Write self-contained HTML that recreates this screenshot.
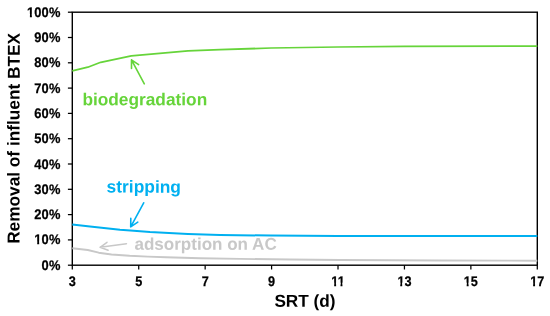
<!DOCTYPE html>
<html><head><meta charset="utf-8">
<style>
html,body{margin:0;padding:0;background:#fff;}
body{width:550px;height:316px;overflow:hidden;}
svg{display:block;text-rendering:geometricPrecision;font-family:"Liberation Sans",Arial,sans-serif;font-weight:bold;}
</style></head><body>
<svg width="550" height="316" viewBox="0 0 550 316">
<rect width="550" height="316" fill="#fff"/>
<rect x="72.3" y="12.2" width="465.0" height="253.0" fill="none" stroke="#000" stroke-width="1.4"/>
<g stroke="#000" stroke-width="1.25">
<line x1="67.9" y1="265.20" x2="72.3" y2="265.20"/>
<line x1="67.9" y1="239.90" x2="72.3" y2="239.90"/>
<line x1="67.9" y1="214.60" x2="72.3" y2="214.60"/>
<line x1="67.9" y1="189.30" x2="72.3" y2="189.30"/>
<line x1="67.9" y1="164.00" x2="72.3" y2="164.00"/>
<line x1="67.9" y1="138.70" x2="72.3" y2="138.70"/>
<line x1="67.9" y1="113.40" x2="72.3" y2="113.40"/>
<line x1="67.9" y1="88.10" x2="72.3" y2="88.10"/>
<line x1="67.9" y1="62.80" x2="72.3" y2="62.80"/>
<line x1="67.9" y1="37.50" x2="72.3" y2="37.50"/>
<line x1="67.9" y1="12.20" x2="72.3" y2="12.20"/>
<line x1="72.30" y1="265.2" x2="72.30" y2="269.5"/>
<line x1="138.73" y1="265.2" x2="138.73" y2="269.5"/>
<line x1="205.16" y1="265.2" x2="205.16" y2="269.5"/>
<line x1="271.59" y1="265.2" x2="271.59" y2="269.5"/>
<line x1="338.01" y1="265.2" x2="338.01" y2="269.5"/>
<line x1="404.44" y1="265.2" x2="404.44" y2="269.5"/>
<line x1="470.87" y1="265.2" x2="470.87" y2="269.5"/>
<line x1="537.30" y1="265.2" x2="537.30" y2="269.5"/>
</g>
<polyline fill="none" stroke="#c8c8c8" stroke-width="1.9" stroke-linejoin="round" points="72.3,248.2 87.8,250.0 98.7,252.7 111.5,254.5 129.6,255.8 147.8,256.6 166.0,257.2 200.0,258.2 240.0,258.9 290.0,259.5 340.0,260.0 440.0,260.5 537.3,260.7"/>
<polyline fill="none" stroke="#00b0f0" stroke-width="2.0" stroke-linejoin="round" points="72.3,224.6 90.0,226.6 120.0,229.7 130.4,230.4 150.0,231.9 188.0,233.9 220.0,234.9 271.0,235.6 338.0,235.9 440.0,236.1 537.3,236.1"/>
<polyline fill="none" stroke="#66d43a" stroke-width="1.75" stroke-linejoin="round" points="72.3,70.9 87.8,67.2 100.7,62.3 131.3,55.8 188.0,50.8 220.0,49.7 271.0,48.0 338.0,47.0 404.0,46.4 537.3,46.1"/>
<g font-size="13.85" text-anchor="end" letter-spacing="0.15" fill="#000" stroke="#000" stroke-width="0.25">
<text transform="translate(60.5,269.80) rotate(0.03) scale(0.93,1)">0%</text>
<text transform="translate(60.5,244.50) rotate(0.03) scale(0.93,1)">10%</text>
<text transform="translate(60.5,219.20) rotate(0.03) scale(0.93,1)">20%</text>
<text transform="translate(60.5,193.90) rotate(0.03) scale(0.93,1)">30%</text>
<text transform="translate(60.5,168.60) rotate(0.03) scale(0.93,1)">40%</text>
<text transform="translate(60.5,143.30) rotate(0.03) scale(0.93,1)">50%</text>
<text transform="translate(60.5,118.00) rotate(0.03) scale(0.93,1)">60%</text>
<text transform="translate(60.5,92.70) rotate(0.03) scale(0.93,1)">70%</text>
<text transform="translate(60.5,67.40) rotate(0.03) scale(0.93,1)">80%</text>
<text transform="translate(60.5,42.10) rotate(0.03) scale(0.93,1)">90%</text>
<text transform="translate(60.5,16.80) rotate(0.03) scale(0.93,1)">100%</text>
</g>
<g font-size="13.85" text-anchor="middle" fill="#000" stroke="#000" stroke-width="0.25">
<text transform="translate(72.30,285.55) rotate(0.03) scale(0.915,1)">3</text>
<text transform="translate(138.73,285.55) rotate(0.03) scale(0.915,1)">5</text>
<text transform="translate(205.16,285.55) rotate(0.03) scale(0.915,1)">7</text>
<text transform="translate(271.59,285.55) rotate(0.03) scale(0.915,1)">9</text>
<text transform="translate(338.01,285.55) rotate(0.03) scale(0.915,1)">11</text>
<text transform="translate(404.44,285.55) rotate(0.03) scale(0.915,1)">13</text>
<text transform="translate(470.87,285.55) rotate(0.03) scale(0.915,1)">15</text>
<text transform="translate(537.30,285.55) rotate(0.03) scale(0.915,1)">17</text>
</g>
<text transform="translate(304.95,306.7) rotate(0.03)" font-size="17.2" text-anchor="middle" fill="#000">SRT (d)</text>
<text transform="translate(19.6,138.45) rotate(-89.97)" font-size="17.25" text-anchor="middle" fill="#000">Removal of influent BTEX</text>
<text transform="translate(82.4,105.2) rotate(0.03)" font-size="17.3" fill="#66d43a">biodegradation</text>
<text transform="translate(106.6,192.6) rotate(0.03)" font-size="17.4" fill="#00b0f0">stripping</text>
<text transform="translate(134.45,249.75) rotate(0.03)" font-size="17.05" fill="#c8c8c8">adsorption on AC</text>
<g fill="none" stroke-width="1.6" stroke-linecap="round" stroke-linejoin="round">
<path stroke="#66d43a" d="M144.3 83.8 L131.5 59.9 M131.5 68.4 L131.5 59.9 L138.6 64.6"/>
<path stroke="#00b0f0" d="M143.7 202.8 L130.7 226.9 M137.8 222.2 L130.7 226.9 L130.8 218.4"/>
<path stroke-width="1.45" stroke="#c8c8c8" d="M126.5 243.7 L100.1 247.3 M108.1 250.2 L100.1 247.3 L107.0 242.3"/>
</g>
<g fill="#fff">
<rect x="34.11" y="241.57" width="3.09" height="4.91"/>
<rect x="39.17" y="241.57" width="2.63" height="4.91"/>
<rect x="26.82" y="13.87" width="3.09" height="4.91"/>
<rect x="31.88" y="13.87" width="2.63" height="4.91"/>
<rect x="331.11" y="282.63" width="3.06" height="4.91"/>
<rect x="336.11" y="282.63" width="2.60" height="4.91"/>
<rect x="337.44" y="282.64" width="3.06" height="4.91"/>
<rect x="342.44" y="282.64" width="2.60" height="4.91"/>
<rect x="397.19" y="282.63" width="3.06" height="4.91"/>
<rect x="402.19" y="282.63" width="2.60" height="4.91"/>
<rect x="463.62" y="282.63" width="3.06" height="4.91"/>
<rect x="468.62" y="282.63" width="2.60" height="4.91"/>
<rect x="530.05" y="282.63" width="3.06" height="4.91"/>
<rect x="535.05" y="282.63" width="2.60" height="4.91"/>
</g>
</svg>
</body></html>
